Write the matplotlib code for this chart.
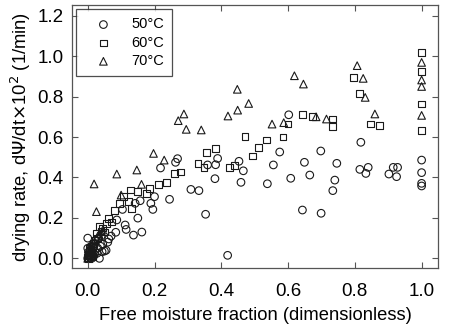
import matplotlib
matplotlib.use('Agg')

import matplotlib.pyplot as plt

plt.rcParams['font.family'] = ['Liberation Sans', 'DejaVu Sans']

# 50 C series (open circles)
x50 = [1.0, 1.0, 1.0, 1.0, 0.915, 0.928, 0.902, 0.925, 0.818, 0.815, 0.833, 0.840,
       0.746, 0.740, 0.734, 0.698, 0.699, 0.665, 0.649, 0.643, 0.602, 0.608, 0.575,
       0.556, 0.538, 0.466, 0.453, 0.459, 0.419, 0.389, 0.383, 0.381, 0.359, 0.353,
       0.333, 0.309, 0.269, 0.263, 0.245, 0.218, 0.200, 0.195, 0.189, 0.162, 0.150,
       0.157, 0.137, 0.115, 0.112, 0.104, 0.087, 0.084, 0.142, 0.063, 0.050, 0.035,
       0.0, 0.0, 0.003, 0.005, 0.008, 0.0, 0.010, 0.015, 0.020, 0.025, 0.030, 0.040,
       0.045, 0.055, 0.012, 0.020, 0.033, 0.043, 0.070, 0.060, 0.002, 0.006, 0.018,
       0.028, 0.038]
y50 = [0.486, 0.424, 0.371, 0.358, 0.450, 0.450, 0.417, 0.404, 0.574, 0.440, 0.420, 0.450,
       0.470, 0.387, 0.335, 0.531, 0.223, 0.412, 0.475, 0.239, 0.710, 0.396, 0.526,
       0.462, 0.369, 0.433, 0.480, 0.376, 0.015, 0.494, 0.463, 0.394, 0.462, 0.218,
       0.335, 0.341, 0.493, 0.475, 0.292, 0.447, 0.305, 0.242, 0.272, 0.130, 0.199,
       0.285, 0.115, 0.143, 0.165, 0.242, 0.190, 0.129, 0.272, 0.096, 0.036, 0.0,
       0.100, 0.0, 0.010, 0.020, 0.030, 0.050, 0.060, 0.040, 0.070, 0.090, 0.050, 0.110,
       0.070, 0.040, 0.0, 0.020, 0.099, 0.033, 0.110, 0.080, 0.030, 0.005, 0.012,
       0.025, 0.060]

# 60 C series (open squares)
x60 = [1.0, 1.0, 1.0, 1.0, 0.795, 0.815, 0.847, 0.873, 0.734, 0.734, 0.673, 0.644,
       0.600, 0.585, 0.536, 0.511, 0.493, 0.471, 0.424, 0.439, 0.383, 0.356, 0.330,
       0.348, 0.277, 0.259, 0.235, 0.213, 0.184, 0.177, 0.129, 0.122, 0.130, 0.107,
       0.080, 0.062, 0.055, 0.035, 0.027, 0.0, 0.003, 0.006, 0.010, 0.014, 0.018,
       0.022, 0.030, 0.040, 0.045, 0.050, 0.070, 0.002, 0.008, 0.095, 0.150, 0.004,
       0.012, 0.016]
y60 = [1.019, 0.923, 0.763, 0.631, 0.895, 0.816, 0.664, 0.656, 0.689, 0.654, 0.702, 0.712,
       0.664, 0.600, 0.585, 0.549, 0.506, 0.602, 0.450, 0.461, 0.542, 0.522, 0.468,
       0.450, 0.427, 0.420, 0.374, 0.366, 0.346, 0.321, 0.338, 0.280, 0.247, 0.305,
       0.236, 0.198, 0.173, 0.157, 0.124, 0.005, 0.020, 0.035, 0.045, 0.060, 0.075,
       0.090, 0.100, 0.135, 0.150, 0.130, 0.180, 0.0, 0.015, 0.270, 0.330, 0.050,
       0.028, 0.008]

# 70 C series (open triangles)
x70 = [0.019, 0.026, 0.087, 0.147, 0.161, 0.100, 0.197, 0.229, 0.271, 0.288, 0.295,
       0.340, 0.420, 0.448, 0.449, 0.482, 0.552, 0.587, 0.619, 0.646, 0.684, 0.715,
       0.807, 0.825, 0.831, 0.860, 1.0, 1.0, 1.0, 1.0,
       0.0, 0.004, 0.008, 0.012, 0.020, 0.030, 0.045]
y70 = [0.368, 0.231, 0.417, 0.437, 0.366, 0.313, 0.519, 0.486, 0.681, 0.714, 0.638,
       0.635, 0.704, 0.836, 0.733, 0.766, 0.664, 0.671, 0.903, 0.862, 0.700, 0.689,
       0.953, 0.890, 0.796, 0.714, 0.969, 0.882, 0.850, 0.707,
       0.0, 0.020, 0.040, 0.060, 0.080, 0.110, 0.140]

series = [('50°C', x50, y50, 'o', 30),
          ('60°C', x60, y60, 's', 24),
          ('70°C', x70, y70, '^', 30)]

fig = plt.figure(figsize=(4.74, 3.33), dpi=100)
ax = fig.add_axes([0.152, 0.195, 0.772, 0.79])

for label, xs, ys, mk, size in series:
    ax.scatter(xs, ys, marker=mk, s=size, facecolors='none',
               edgecolors='#1a1a1a', linewidths=0.8, label=label)

ax.set_xlim(-0.047, 1.049)
ax.set_ylim(-0.048, 1.253)
ax.set_xticks([0.0, 0.2, 0.4, 0.6, 0.8, 1.0])
ax.set_yticks([0.0, 0.2, 0.4, 0.6, 0.8, 1.0, 1.2])
ax.xaxis.set_major_formatter(plt.FormatStrFormatter('%.1f'))
ax.yaxis.set_major_formatter(plt.FormatStrFormatter('%.1f'))
ax.tick_params(direction='in', top=True, right=True, length=4, width=0.8,
               color='#555555', labelsize=13.5)
ax.tick_params(axis='x', pad=11)
ax.tick_params(axis='y', pad=6)
for sp in ax.spines.values():
    sp.set_color('#555555')
    sp.set_linewidth(0.9)

ax.set_xlabel('Free moisture fraction (dimensionless)', fontsize=13.2, labelpad=5)
ax.set_ylabel('drying rate, d$\\Psi$/dt$\\times$10$^2$ (1/min)', fontsize=13.2, labelpad=3)

leg = ax.legend(loc='upper left', fontsize=10.5, frameon=True, fancybox=False,
                borderpad=0.55, handlelength=2.6, handletextpad=0.6, labelspacing=0.3,
                borderaxespad=0.3, scatterpoints=1)
leg.get_frame().set_edgecolor('#222222')
leg.get_frame().set_linewidth(0.9)

plt.savefig('out.png', dpi=100)
